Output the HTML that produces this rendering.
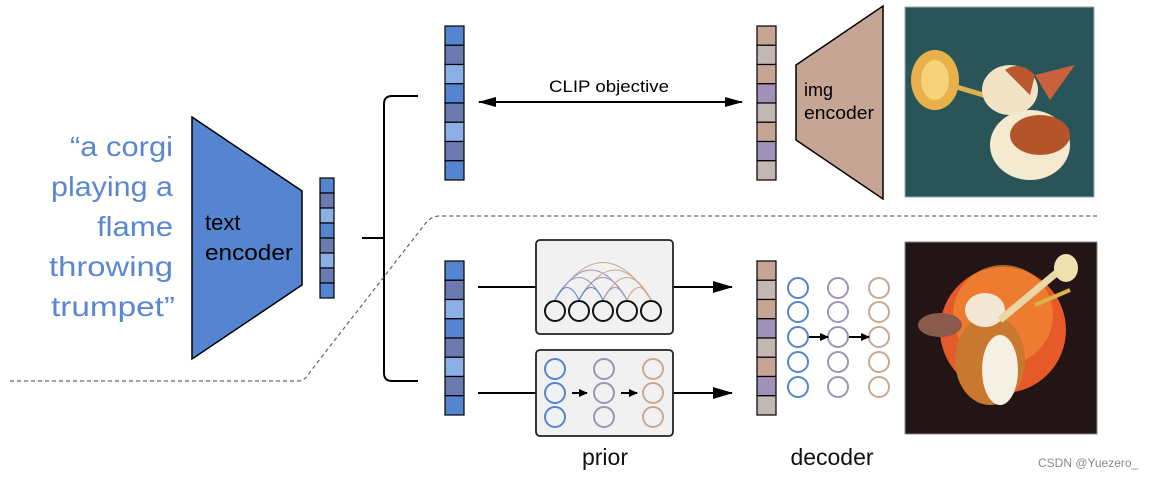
<!DOCTYPE html>
<html><head><meta charset="utf-8"><style>
html,body{margin:0;padding:0;background:#fff;}
svg{display:block;font-family:"Liberation Sans",sans-serif;}
</style></head><body>
<svg width="1160" height="477" viewBox="0 0 1160 477" xmlns="http://www.w3.org/2000/svg">
<defs>
<marker id="ah" markerWidth="20" markerHeight="12" refX="19" refY="6" orient="auto" markerUnits="userSpaceOnUse"><path d="M0,0 L20,6 L0,12 Z" fill="#000"/></marker>
<marker id="ah2" markerWidth="18" markerHeight="10" refX="17" refY="5" orient="auto" markerUnits="userSpaceOnUse"><path d="M0,0 L18,5 L0,10 Z" fill="#000"/></marker>
<marker id="ahl" markerWidth="18" markerHeight="10" refX="1" refY="5" orient="auto" markerUnits="userSpaceOnUse"><path d="M18,0 L0,5 L18,10 Z" fill="#000"/></marker>
<marker id="sa" markerWidth="9" markerHeight="8" refX="8" refY="4" orient="auto" markerUnits="userSpaceOnUse"><path d="M0,0 L9,4 L0,8 Z" fill="#000"/></marker>
</defs>

<g fill="#5b87d1" font-size="28" text-anchor="end">
<text x="173" y="156" textLength="103" lengthAdjust="spacingAndGlyphs">“a corgi</text>
<text x="173" y="196" textLength="122" lengthAdjust="spacingAndGlyphs">playing a</text>
<text x="173" y="236" textLength="76" lengthAdjust="spacingAndGlyphs">flame</text>
<text x="173" y="276" textLength="124" lengthAdjust="spacingAndGlyphs">throwing</text>
<text x="175" y="316" textLength="124" lengthAdjust="spacingAndGlyphs">trumpet”</text>
</g>

<polygon points="192,117 302,191 302,285 192,359" fill="#5585d0" stroke="#000" stroke-width="1.5"/>
<text x="205" y="230" font-size="22" fill="#000">text</text>
<text x="205" y="260" font-size="22" fill="#000" textLength="88" lengthAdjust="spacingAndGlyphs">encoder</text>

<g stroke="#000" stroke-width="1.2">
<rect x="320" y="178" width="14" height="15" fill="#5585d0"/>
<rect x="320" y="193" width="14" height="15" fill="#6b7ab0"/>
<rect x="320" y="208" width="14" height="15" fill="#8ab0e6"/>
<rect x="320" y="223" width="14" height="15" fill="#5585d0"/>
<rect x="320" y="238" width="14" height="15" fill="#6b7ab0"/>
<rect x="320" y="253" width="14" height="15" fill="#8ab0e6"/>
<rect x="320" y="268" width="14" height="15" fill="#6b7ab0"/>
<rect x="320" y="283" width="14" height="15" fill="#5585d0"/>
</g>

<path d="M362,238 H384" stroke="#000" stroke-width="2" fill="none"/>
<path d="M418,96 H392 Q384,96 384,104 V373 Q384,381 392,381 H418" stroke="#000" stroke-width="2" fill="none"/>

<path d="M10,381 H298 Q305,381 310,372 L425,224 Q431,216 440,216 H1097" stroke="#666" stroke-width="1.2" stroke-dasharray="4,3" fill="none"/>

<g stroke="#000" stroke-width="1.2">
<rect x="445" y="26" width="19" height="19.25" fill="#5585d0"/>
<rect x="445" y="45.25" width="19" height="19.25" fill="#6b7ab0"/>
<rect x="445" y="64.5" width="19" height="19.25" fill="#8ab0e6"/>
<rect x="445" y="83.75" width="19" height="19.25" fill="#5585d0"/>
<rect x="445" y="103" width="19" height="19.25" fill="#6b7ab0"/>
<rect x="445" y="122.25" width="19" height="19.25" fill="#8ab0e6"/>
<rect x="445" y="141.5" width="19" height="19.25" fill="#6b7ab0"/>
<rect x="445" y="160.75" width="19" height="19.25" fill="#5585d0"/>
</g>
<g stroke="#000" stroke-width="1.2">
<rect x="445" y="261" width="19" height="19.25" fill="#5585d0"/>
<rect x="445" y="280.25" width="19" height="19.25" fill="#6b7ab0"/>
<rect x="445" y="299.5" width="19" height="19.25" fill="#8ab0e6"/>
<rect x="445" y="318.75" width="19" height="19.25" fill="#5585d0"/>
<rect x="445" y="338" width="19" height="19.25" fill="#6b7ab0"/>
<rect x="445" y="357.25" width="19" height="19.25" fill="#8ab0e6"/>
<rect x="445" y="376.5" width="19" height="19.25" fill="#6b7ab0"/>
<rect x="445" y="395.75" width="19" height="19.25" fill="#5585d0"/>
</g>

<text x="609" y="92" font-size="17" text-anchor="middle" fill="#000" textLength="120" lengthAdjust="spacingAndGlyphs">CLIP objective</text>
<line x1="479" y1="102" x2="742" y2="102" stroke="#000" stroke-width="2" marker-start="url(#ahl)" marker-end="url(#ah2)"/>

<g stroke="#000" stroke-width="1.2">
<rect x="757" y="26" width="19" height="19.25" fill="#c6a595"/>
<rect x="757" y="45.25" width="19" height="19.25" fill="#c4b6b3"/>
<rect x="757" y="64.5" width="19" height="19.25" fill="#c6a595"/>
<rect x="757" y="83.75" width="19" height="19.25" fill="#9e92b8"/>
<rect x="757" y="103" width="19" height="19.25" fill="#c4b6b3"/>
<rect x="757" y="122.25" width="19" height="19.25" fill="#c6a595"/>
<rect x="757" y="141.5" width="19" height="19.25" fill="#9e92b8"/>
<rect x="757" y="160.75" width="19" height="19.25" fill="#c4b6b3"/>
</g>
<g stroke="#000" stroke-width="1.2">
<rect x="757" y="261" width="19" height="19.25" fill="#c6a595"/>
<rect x="757" y="280.25" width="19" height="19.25" fill="#c4b6b3"/>
<rect x="757" y="299.5" width="19" height="19.25" fill="#c6a595"/>
<rect x="757" y="318.75" width="19" height="19.25" fill="#9e92b8"/>
<rect x="757" y="338" width="19" height="19.25" fill="#c4b6b3"/>
<rect x="757" y="357.25" width="19" height="19.25" fill="#c6a595"/>
<rect x="757" y="376.5" width="19" height="19.25" fill="#9e92b8"/>
<rect x="757" y="395.75" width="19" height="19.25" fill="#c4b6b3"/>
</g>

<polygon points="796,65 883,6 883,199 796,140" fill="#c6a595" stroke="#000" stroke-width="1.5"/>
<text x="804" y="96" font-size="18" fill="#000">img</text>
<text x="804" y="119" font-size="18" fill="#000" textLength="70" lengthAdjust="spacingAndGlyphs">encoder</text>

<rect x="905" y="7" width="189" height="190" fill="#2a5558" stroke="#9aa" stroke-width="1"/>
<ellipse cx="935" cy="80" rx="24" ry="30" fill="#f2b64a" opacity="0.95"/>
<ellipse cx="935" cy="80" rx="14" ry="20" fill="#f7d27a"/>
<path d="M950,85 L1000,100" stroke="#e2b04e" stroke-width="5"/>
<ellipse cx="1030" cy="145" rx="40" ry="35" fill="#f4ead0"/>
<ellipse cx="1040" cy="135" rx="30" ry="20" fill="#b4542a"/>
<ellipse cx="1010" cy="90" rx="28" ry="25" fill="#f1e3c4"/>
<path d="M1005,70 Q1020,60 1035,75 L1030,95 Z" fill="#b8582c"/>
<path d="M1035,75 L1075,65 L1050,100 Z" fill="#c9623a"/>
<rect x="905" y="242" width="192" height="192" fill="#231515" stroke="#888" stroke-width="1"/>
<circle cx="1003" cy="330" r="63" fill="#e65a2a"/>
<circle cx="1003" cy="315" r="50" fill="#ef8a33" opacity="0.7"/>
<ellipse cx="990" cy="360" rx="35" ry="45" fill="#c9782f"/>
<ellipse cx="1000" cy="370" rx="18" ry="35" fill="#f6efe3"/>
<ellipse cx="940" cy="325" rx="22" ry="12" fill="#8a5a4a"/>
<ellipse cx="985" cy="310" rx="20" ry="17" fill="#f2e6d4"/>
<path d="M1000,320 L1060,270" stroke="#e9d7a5" stroke-width="7"/>
<ellipse cx="1066" cy="268" rx="12" ry="14" fill="#efe0b0"/>
<path d="M1035,305 L1070,290" stroke="#d9b24a" stroke-width="4"/>

<line x1="478" y1="287" x2="536" y2="287" stroke="#000" stroke-width="2"/>
<line x1="478" y1="393" x2="536" y2="393" stroke="#000" stroke-width="2"/>
<line x1="673" y1="287" x2="732" y2="287" stroke="#000" stroke-width="2" marker-end="url(#ah)"/>
<line x1="673" y1="393" x2="732" y2="393" stroke="#000" stroke-width="2" marker-end="url(#ah)"/>
<rect x="536" y="240" width="137" height="94" rx="4" fill="#f1f1f1" stroke="#222" stroke-width="1.8"/>
<rect x="536" y="350" width="137" height="86" rx="4" fill="#f1f1f1" stroke="#222" stroke-width="1.8"/>

<g fill="none" stroke-width="1.1">
<path d="M651,300 Q603,225 555,300" stroke="#c9a892"/>
<path d="M627,300 Q591,240 555,300" stroke="#9e92b8"/>
<path d="M603,300 Q579,255 555,300" stroke="#9e92b8"/>
<path d="M579,300 Q567,275 555,300" stroke="#5585d0"/>
<path d="M651,300 Q615,240 579,300" stroke="#c9a892"/>
<path d="M627,300 Q603,255 579,300" stroke="#9e92b8"/>
<path d="M603,300 Q591,275 579,300" stroke="#5585d0"/>
<path d="M651,300 Q627,255 603,300" stroke="#c9a892"/>
<path d="M627,300 Q615,275 603,300" stroke="#9e92b8"/>
<path d="M651,300 Q639,275 627,300" stroke="#c9a892"/>
</g>
<g fill="none" stroke="#111" stroke-width="2">
<circle cx="555" cy="311" r="10"/><circle cx="579" cy="311" r="10"/><circle cx="603" cy="311" r="10"/><circle cx="627" cy="311" r="10"/><circle cx="651" cy="311" r="10"/>
</g>

<g fill="none" stroke-width="2">
<g stroke="#5585d0"><circle cx="555" cy="369" r="10"/><circle cx="555" cy="393" r="10"/><circle cx="555" cy="417" r="10"/></g>
<g stroke="#9e92b8"><circle cx="604" cy="369" r="10"/><circle cx="604" cy="393" r="10"/><circle cx="604" cy="417" r="10"/></g>
<g stroke="#c9a892"><circle cx="653" cy="369" r="10"/><circle cx="653" cy="393" r="10"/><circle cx="653" cy="417" r="10"/></g>
</g>
<line x1="572" y1="393" x2="587" y2="393" stroke="#000" stroke-width="2" marker-end="url(#sa)"/>
<line x1="621" y1="393" x2="637" y2="393" stroke="#000" stroke-width="2" marker-end="url(#sa)"/>

<g fill="none" stroke-width="2">
<g stroke="#5585d0"><circle cx="798" cy="288" r="10"/><circle cx="798" cy="312" r="10"/><circle cx="798" cy="337" r="10"/><circle cx="798" cy="362" r="10"/><circle cx="798" cy="387" r="10"/></g>
<g stroke="#9e92b8"><circle cx="838" cy="288" r="10"/><circle cx="838" cy="312" r="10"/><circle cx="838" cy="337" r="10"/><circle cx="838" cy="362" r="10"/><circle cx="838" cy="387" r="10"/></g>
<g stroke="#c9a892"><circle cx="879" cy="288" r="10"/><circle cx="879" cy="312" r="10"/><circle cx="879" cy="337" r="10"/><circle cx="879" cy="362" r="10"/><circle cx="879" cy="387" r="10"/></g>
</g>
<line x1="809" y1="337" x2="828" y2="337" stroke="#000" stroke-width="2" marker-end="url(#sa)"/>
<line x1="849" y1="337" x2="869" y2="337" stroke="#000" stroke-width="2" marker-end="url(#sa)"/>

<text x="605" y="465" font-size="23" text-anchor="middle" fill="#111">prior</text>
<text x="832" y="465" font-size="23" text-anchor="middle" fill="#111">decoder</text>
<text x="1038" y="467" font-size="12" fill="#888">CSDN @Yuezero_</text>
</svg>
</body></html>
